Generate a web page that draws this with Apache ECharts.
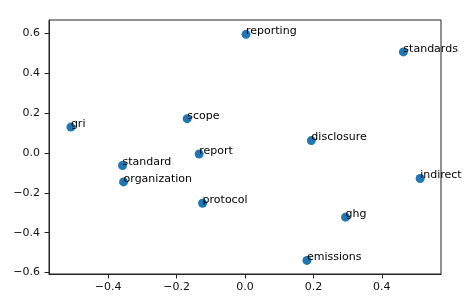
<!DOCTYPE html>
<html>
<head>
<meta charset="utf-8">
<script src="https://cdn.jsdelivr.net/npm/echarts@6/dist/echarts.min.js"></script>
<style>html,body{margin:0;padding:0;background:#fff}#c{width:474px;height:305px}</style>
</head>
<body>
<div id="c"></div>
<script>
const words = ['reporting','standards','gri','scope','disclosure','report','standard','organization','indirect','protocol','ghg','emissions'];
const xs = [0.003, 0.463, -0.509, -0.169, 0.194, -0.134, -0.358, -0.355, 0.512, -0.124, 0.294, 0.181];
const ys = [0.595, 0.507, 0.130, 0.172, 0.062, -0.005, -0.063, -0.145, -0.128, -0.252, -0.322, -0.539];
const xTicks = [-0.4, -0.2, 0.0, 0.2, 0.4];
const yTicks = [-0.6, -0.4, -0.2, 0.0, 0.2, 0.4, 0.6];

const fmt = v => v.toFixed(1).replace('-', '\u2212');
const data = words.map((w, i) => ({ name: w, value: [xs[i], ys[i]] }));

const axisCommon = {
  type: 'value',
  splitLine: { show: false },
  axisLine: { show: true, onZero: false, lineStyle: { color: '#222', width: 1 } },
  axisTick: { show: true, inside: false, length: 4.5, lineStyle: { color: '#222' } },
  axisLabel: { color: '#111', fontFamily: 'DejaVu Sans', fontSize: 11, formatter: fmt }
};

const chart = echarts.init(document.getElementById('c'), null, { renderer: 'canvas' });
chart.setOption({
  animation: false,
  grid: { left: 49, top: 20, right: 33, bottom: 31, show: true, borderColor: '#222', borderWidth: 1, containLabel: false },
  xAxis: Object.assign({}, axisCommon, {
    min: -0.573, max: 0.573,
    axisTick: Object.assign({}, axisCommon.axisTick, { customValues: xTicks }),
    axisLabel: Object.assign({}, axisCommon.axisLabel, { customValues: xTicks, margin: 8 })
  }),
  yAxis: Object.assign({}, axisCommon, {
    min: -0.607, max: 0.667,
    axisTick: Object.assign({}, axisCommon.axisTick, { customValues: yTicks }),
    axisLabel: Object.assign({}, axisCommon.axisLabel, { customValues: yTicks, margin: 9 })
  }),
  series: [{
    type: 'scatter',
    data: data,
    symbolSize: 9,
    itemStyle: { color: '#1f77b4', opacity: 1 },
    label: {
      show: true,
      formatter: p => p.name,
      position: [4.5, 7],
      align: 'left',
      verticalAlign: 'bottom',
      color: '#000',
      fontFamily: 'DejaVu Sans',
      fontSize: 11
    },
    emphasis: { disabled: true }
  }]
});
</script>
</body>
</html>
